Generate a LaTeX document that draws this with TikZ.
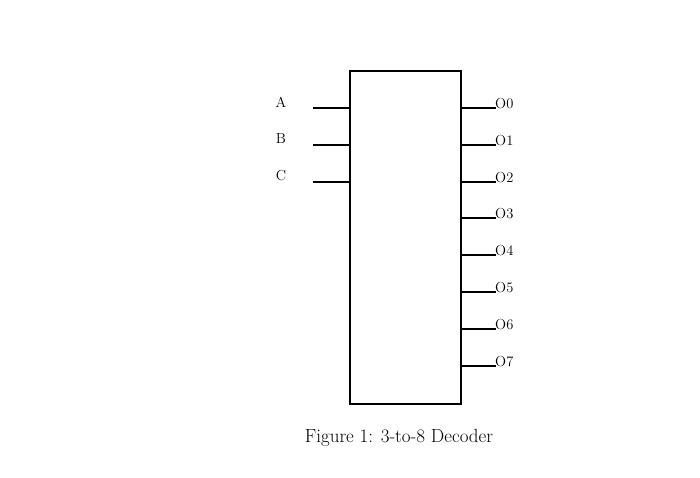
\documentclass[tikz,border=0pt]{standalone}
\begin{document}
\begin{tikzpicture}[x=1pt,y=-1pt,
  wire/.style={line width=1.3pt},
  lbl/.style={font=\fontsize{14.5}{16}\selectfont, inner sep=0pt}]
\useasboundingbox (0,0) rectangle (700,477);
\node[draw, line width=1.3pt, minimum width=111pt, minimum height=333pt, inner sep=0pt] (box) at (405.5,237.5) {};
\foreach \n/\y in {A/108,B/145,C/182}{
  \coordinate (in\n) at (313,\y);
  \coordinate (inb\n) at (350,\y);
  \draw[wire] (in\n) -- (inb\n);
  \node[lbl] (l\n) at (281,\y-6) {\n};
}
\foreach \i/\y in {0/108,1/145,2/182,3/218,4/255,5/292,6/329,7/366}{
  \coordinate (ob\i) at (461,\y);
  \coordinate (o\i) at (496,\y);
  \draw[wire] (ob\i) -- (o\i);
  \node[lbl, anchor=south west] (lo\i) at (495,\y+1) {O\i};
}
\node[font=\fontsize{19}{22}\selectfont] (cap) at (399,438) {Figure 1: 3-to-8 Decoder};
\end{tikzpicture}
\end{document}
